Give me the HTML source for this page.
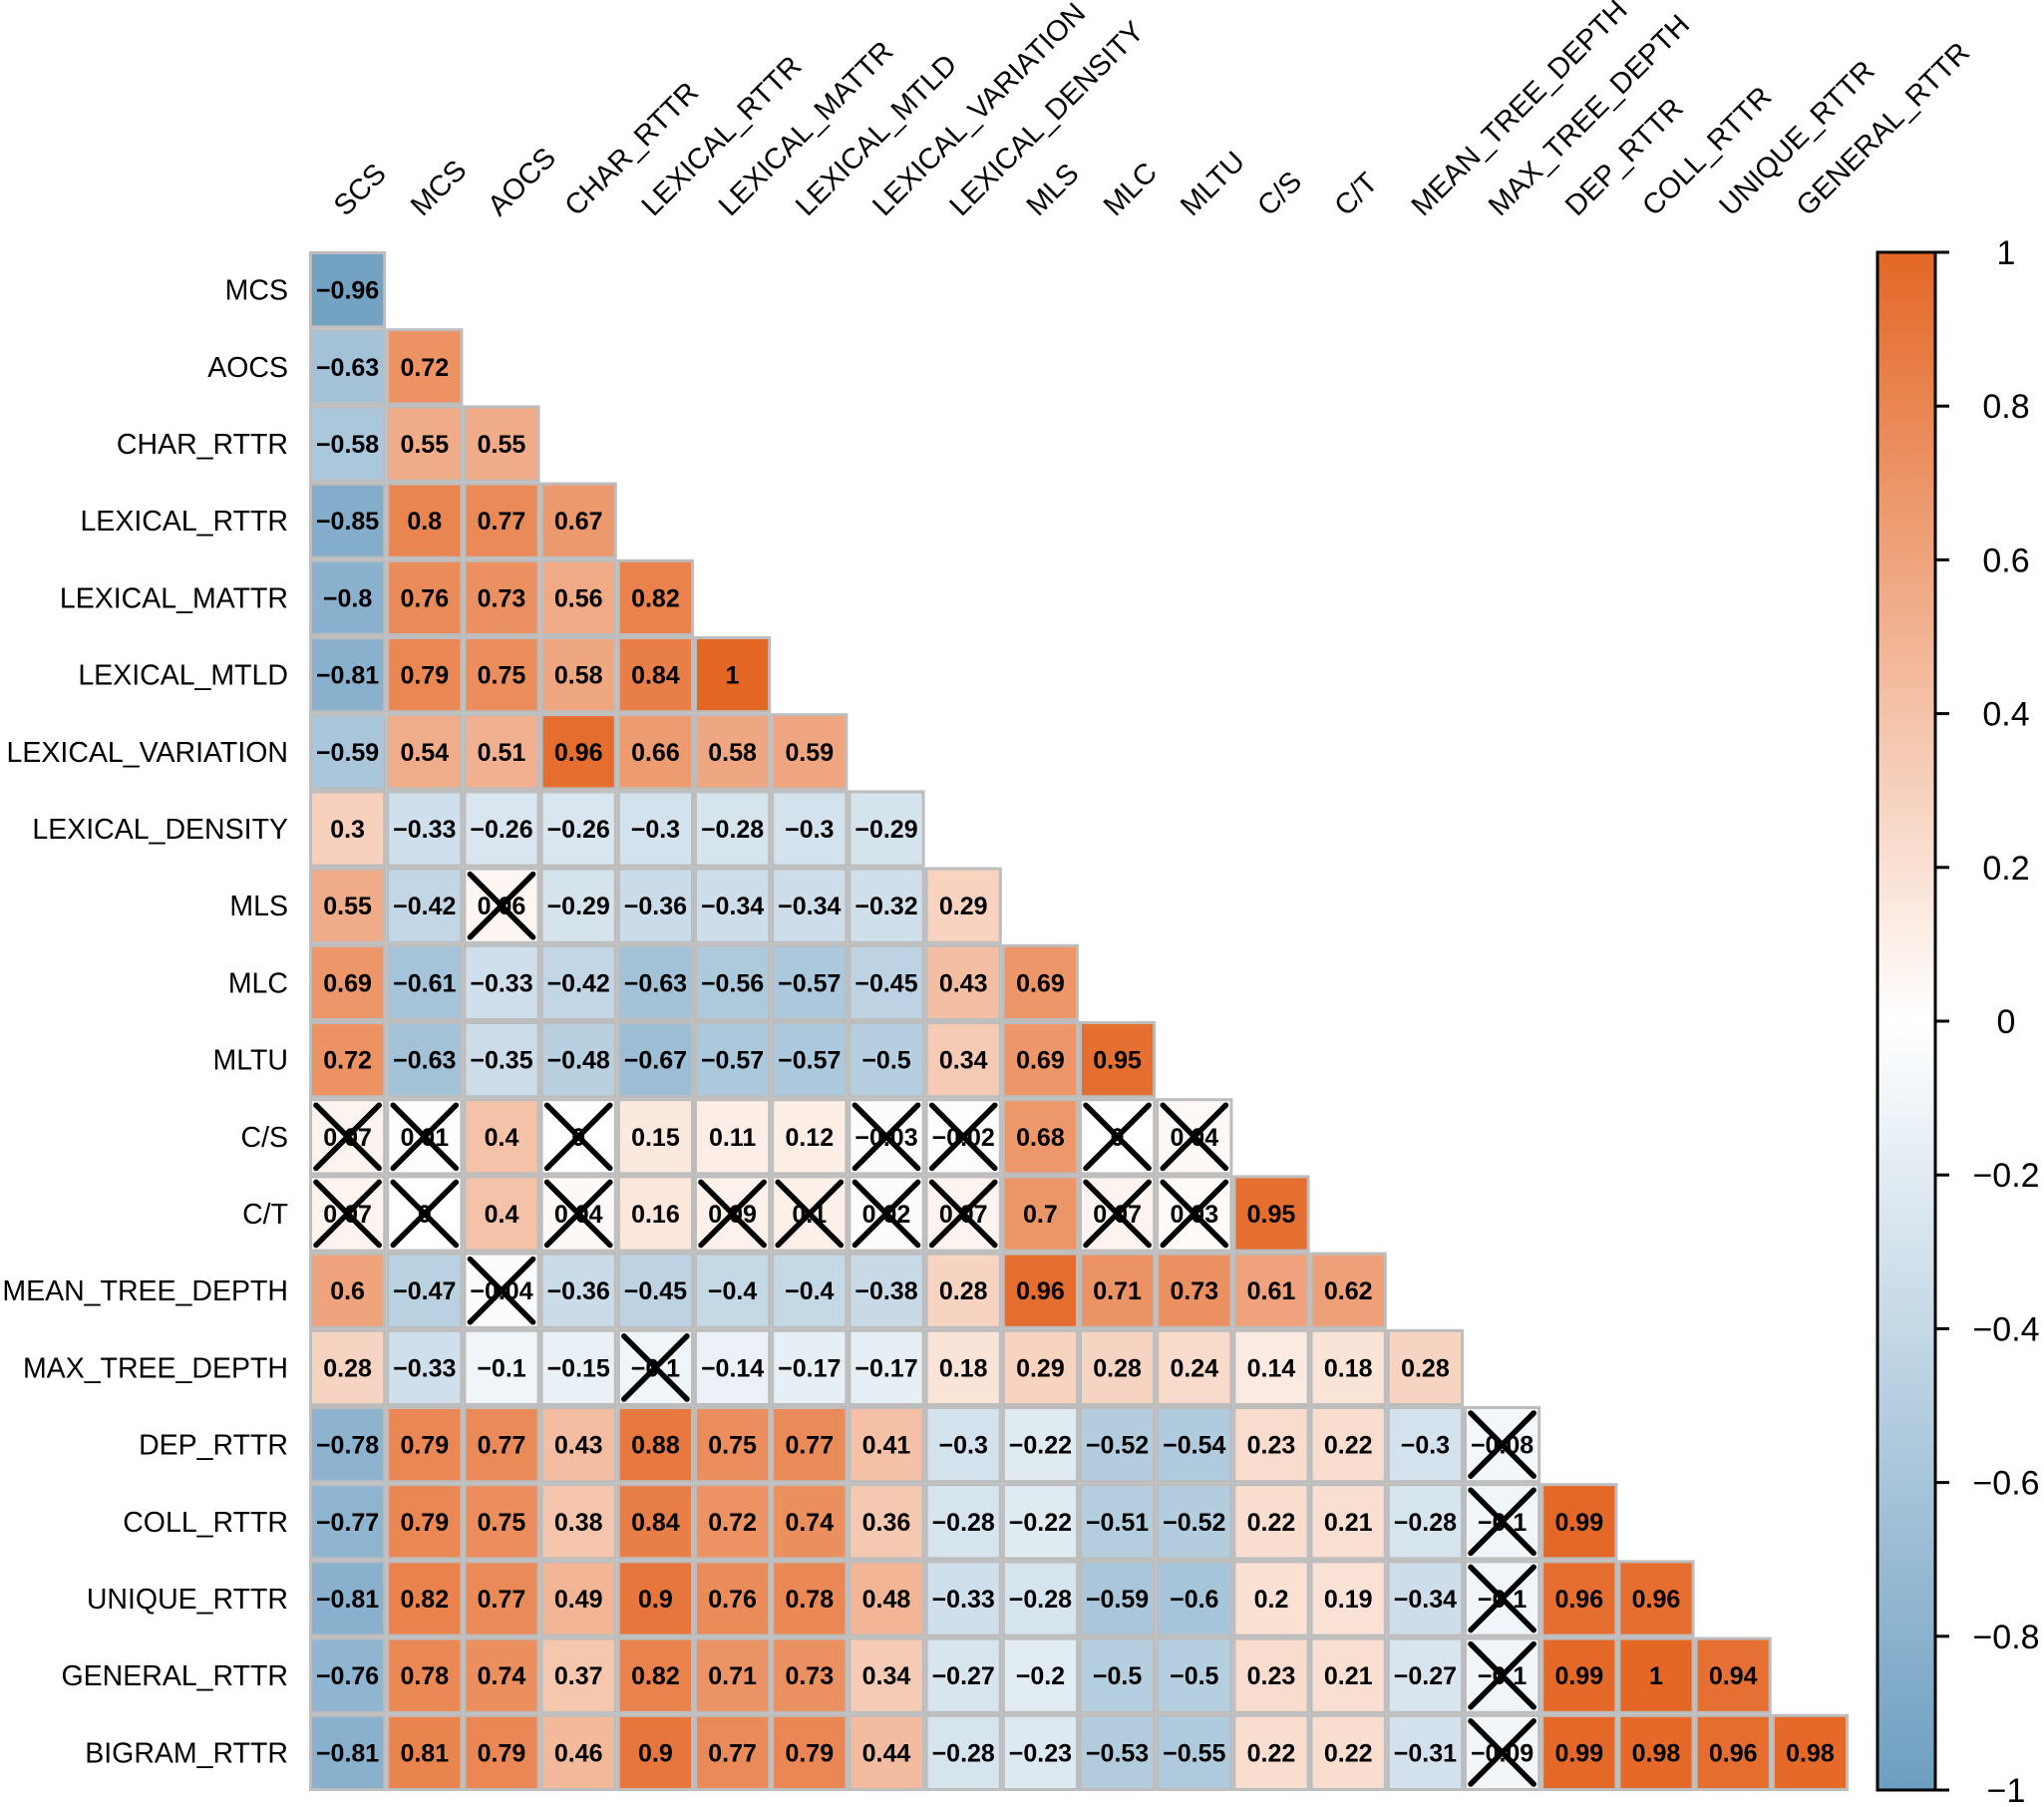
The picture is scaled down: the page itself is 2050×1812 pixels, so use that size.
<!DOCTYPE html>
<html><head><meta charset="utf-8">
<style>
html,body{margin:0;padding:0;background:#fff;}
svg{display:block;font-family:"Liberation Sans",Arial,sans-serif;}
</style></head>
<body>
<svg id="chart" width="2050" height="1812" viewBox="0 0 2050 1812" xmlns="http://www.w3.org/2000/svg"></svg>
<script>
const colLabels = ["SCS","MCS","AOCS","CHAR_RTTR","LEXICAL_RTTR","LEXICAL_MATTR","LEXICAL_MTLD","LEXICAL_VARIATION","LEXICAL_DENSITY","MLS","MLC","MLTU","C/S","C/T","MEAN_TREE_DEPTH","MAX_TREE_DEPTH","DEP_RTTR","COLL_RTTR","UNIQUE_RTTR","GENERAL_RTTR"];
const rowLabels = ["MCS","AOCS","CHAR_RTTR","LEXICAL_RTTR","LEXICAL_MATTR","LEXICAL_MTLD","LEXICAL_VARIATION","LEXICAL_DENSITY","MLS","MLC","MLTU","C/S","C/T","MEAN_TREE_DEPTH","MAX_TREE_DEPTH","DEP_RTTR","COLL_RTTR","UNIQUE_RTTR","GENERAL_RTTR","BIGRAM_RTTR"];
const corrValues = [
[-0.96],
[-0.63,0.72],
[-0.58,0.55,0.55],
[-0.85,0.8,0.77,0.67],
[-0.8,0.76,0.73,0.56,0.82],
[-0.81,0.79,0.75,0.58,0.84,1],
[-0.59,0.54,0.51,0.96,0.66,0.58,0.59],
[0.3,-0.33,-0.26,-0.26,-0.3,-0.28,-0.3,-0.29],
[0.55,-0.42,0.06,-0.29,-0.36,-0.34,-0.34,-0.32,0.29],
[0.69,-0.61,-0.33,-0.42,-0.63,-0.56,-0.57,-0.45,0.43,0.69],
[0.72,-0.63,-0.35,-0.48,-0.67,-0.57,-0.57,-0.5,0.34,0.69,0.95],
[0.07,0.01,0.4,0,0.15,0.11,0.12,-0.03,-0.02,0.68,0,0.04],
[0.07,0,0.4,0.04,0.16,0.09,0.1,0.02,0.07,0.7,0.07,0.03,0.95],
[0.6,-0.47,-0.04,-0.36,-0.45,-0.4,-0.4,-0.38,0.28,0.96,0.71,0.73,0.61,0.62],
[0.28,-0.33,-0.1,-0.15,-0.1,-0.14,-0.17,-0.17,0.18,0.29,0.28,0.24,0.14,0.18,0.28],
[-0.78,0.79,0.77,0.43,0.88,0.75,0.77,0.41,-0.3,-0.22,-0.52,-0.54,0.23,0.22,-0.3,-0.08],
[-0.77,0.79,0.75,0.38,0.84,0.72,0.74,0.36,-0.28,-0.22,-0.51,-0.52,0.22,0.21,-0.28,-0.1,0.99],
[-0.81,0.82,0.77,0.49,0.9,0.76,0.78,0.48,-0.33,-0.28,-0.59,-0.6,0.2,0.19,-0.34,-0.1,0.96,0.96],
[-0.76,0.78,0.74,0.37,0.82,0.71,0.73,0.34,-0.27,-0.2,-0.5,-0.5,0.23,0.21,-0.27,-0.1,0.99,1,0.94],
[-0.81,0.81,0.79,0.46,0.9,0.77,0.79,0.44,-0.28,-0.23,-0.53,-0.55,0.22,0.22,-0.31,-0.09,0.99,0.98,0.96,0.98]
];
const insignificant = [[8,2],[11,0],[11,1],[11,3],[11,7],[11,8],[11,10],[11,11],[12,0],[12,1],[12,3],[12,5],[12,6],[12,7],[12,8],[12,10],[12,11],[13,2],[14,4],[15,15],[16,15],[17,15],[18,15],[19,15]];
const cbTicks = [1,0.8,0.6,0.4,0.2,0,-0.2,-0.4,-0.6,-0.8,-1];

const NS="http://www.w3.org/2000/svg";
const svg=document.getElementById('chart');
const X0=310, Y0=252, CELL=77.2;
const xPos=c=>X0+c*CELL;
const yPos=r=>Y0+r*CELL;
const lo=[109,158,193], mid=[255,255,255], hi=[228,103,38];
function color(v){
  const a=v<0?lo:hi, t=Math.min(1,Math.abs(v));
  const c=mid.map((m,i)=>Math.round(m+(a[i]-m)*t));
  return `rgb(${c[0]},${c[1]},${c[2]})`;
}
function fmt(v){ return (v<0?'\u2212':'')+String(Math.abs(v)); }
function el(tag,attrs,parent){const e=document.createElementNS(NS,tag);for(const k in attrs)e.setAttribute(k,attrs[k]);(parent||svg).appendChild(e);return e;}
const isInsig=(r,c)=>insignificant.some(p=>p[0]===r&&p[1]===c);

const cellsG=el('g',{});


corrValues.forEach((row,r)=>{
  row.forEach((v,c)=>{
    const x=xPos(c), y=yPos(r);
    const rect=el('rect',{x:x+1.5,y:y+1.5,width:CELL-3,height:CELL-3,fill:color(v),stroke:'#bdbdbd','stroke-width':3},cellsG);
    
    
    const t=el('text',{x:x+CELL/2,y:y+CELL/2+9,'text-anchor':'middle','font-size':25,'font-weight':'bold',fill:'#000'},cellsG);
    t.textContent=fmt(v);
    
    
    if(isInsig(r,c)){
      const g=el('g',{stroke:'#000','stroke-width':5.5,'stroke-linecap':'round'},cellsG);
      
      
      el('line',{x1:x+7,y1:y+7,x2:x+CELL-7,y2:y+CELL-7},g);
      el('line',{x1:x+CELL-7,y1:y+7,x2:x+7,y2:y+CELL-7},g);
    }
  });
});

rowLabels.forEach((lab,r)=>{
  const t=el('text',{x:289,y:yPos(r)+CELL/2+10,'text-anchor':'end','font-size':28.5,fill:'#000'});
  t.textContent=lab;
  
  
});
colLabels.forEach((lab,c)=>{
  const cx=xPos(c)+CELL/2-2, cy=218;
  const t=el('text',{x:cx,y:cy,'font-size':29,fill:'#000',transform:`rotate(-45 ${cx} ${cy})`});
  t.textContent=lab;
  
  
});

const CB_X=1883, CB_W=58, CB_T=253, CB_B=1795;
const cbY=v=>CB_T+(1-v)/2*(CB_B-CB_T);
const defs=el('defs',{});
const grad=el('linearGradient',{id:'cbgrad',x1:0,y1:0,x2:0,y2:1},defs);
el('stop',{offset:'0%','stop-color':color(1)},grad);
el('stop',{offset:'50%','stop-color':color(0)},grad);
el('stop',{offset:'100%','stop-color':color(-1)},grad);
const cb=el('rect',{x:CB_X,y:CB_T,width:CB_W,height:CB_B-CB_T,fill:'url(#cbgrad)',stroke:'#000','stroke-width':3});


cbTicks.forEach(v=>{
  const y=cbY(v);
  const l=el('line',{x1:CB_X+CB_W,y1:y,x2:CB_X+CB_W+14,y2:y,stroke:'#000','stroke-width':3});
  
  
  const t=el('text',{x:2012,y:y+12,'text-anchor':'middle','font-size':34,fill:'#000'});
  t.textContent=(v<0?'\u2212':'')+String(Math.abs(v));
  
  
});
</script>
</body></html>
